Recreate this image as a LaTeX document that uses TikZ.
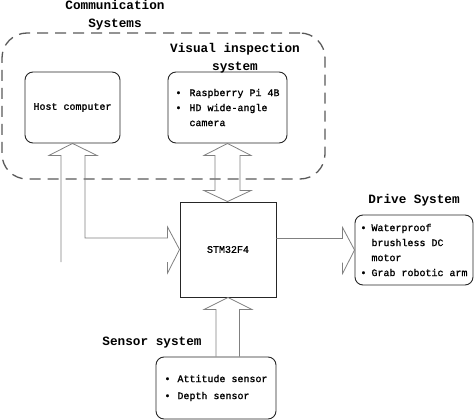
\documentclass[tikz,border=0pt]{standalone}
\usepackage{fontspec}
\setmainfont{Liberation Mono}
\newfontfamily\bodyfam[FakeBold=1.2]{Liberation Mono}
\usetikzlibrary{calc}
\newcommand\bodyfont{\bodyfam\fontsize{10}{15}\selectfont}
\newcommand\titlefont{\fontsize{12.7}{18}\selectfont\bfseries}
\newcommand\itm[1][13pt]{\makebox[#1][l]{•}}
\begin{document}
\begin{tikzpicture}[x=1pt,y=-1pt,
  box/.style={draw=black!85, line width=0.9pt, rounded corners=8pt, inner sep=0pt, align=left, font=\bodyfont},
  sqbox/.style={draw=black!85, line width=0.9pt, inner sep=0pt, font=\bodyfont},
  ttl/.style={align=center, font=\titlefont, inner sep=0pt},
  harrow/.style={draw=black!50, line width=0.8pt, line join=miter},
  dashbox/.style={draw=black!65, line width=1.3pt, dash pattern=on 11pt off 7pt, rounded corners=25pt, inner sep=0pt}]
\useasboundingbox (0,0) rectangle (474,420);
% group frame
\node[dashbox, minimum width=323pt, minimum height=146pt] (comm) at (163.5,106) {};
% boxes
\node[box, minimum width=95pt, minimum height=71pt] (host) at (72.5,107.5) {Host computer};
\node[box, minimum width=119pt, minimum height=71pt] (vis) at (227.5,107.5)
  {\itm[14pt]Raspberry Pi 4B\\\itm[14pt]HD wide-angle\\\hspace*{14pt}camera};
\node[sqbox, minimum width=96pt, minimum height=95pt] (stm) at (228,249.5) {STM32F4};
\node[box, minimum width=118pt, minimum height=70pt] (drv) at (414,250)
  {\itm[11pt]Waterproof\\\hspace*{11pt}brushless DC\\\hspace*{11pt}motor\\\itm[11pt]Grab robotic arm};
\node[box, minimum width=120pt, minimum height=62pt, font=\bodyfam\fontsize{10}{17}\selectfont] (sen) at (216,388)
  {\itm Attitude sensor\\\itm Depth sensor};
% titles
\node[ttl] (commt) at (115,15) {Communication\\Systems};
\node[ttl] (vist) at (235,58) {Visual inspection\\system};
\node[ttl] (drvt) at (414,200) {Drive System};
\node[ttl] (sent) at (152,343) {Sensor system};
% host -> stm (hollow L arrow)
\coordinate (h) at (host.south);
\coordinate (s) at (stm.west);
\coordinate (hl) at ($(h)+(-11.5,0)$);
\coordinate (hr) at ($(h)+(12.5,0)$);
\coordinate (sl) at ($(s)+(0,12.5)$);
\coordinate (su) at ($(s)+(0,-11.5)$);
\draw[harrow] (hl |- sl) -- ($(hl)+(0,12)$) -- ($(h)+(-23.5,12)$) -- (h)
  -- ($(h)+(24.5,12)$) -- ($(hr)+(0,12)$) -- (hr |- su) -- ($(su)+(-12,0)$)
  -- ($(s)+(-12,-22.5)$) -- (s) -- ($(s)+(-12,23.5)$) -- ($(sl)+(-12,0)$);
% vis <-> stm (hollow double arrow)
\coordinate (v) at (vis.south);
\coordinate (t) at (v |- stm.north);
\draw[harrow] (v) -- ($(v)+(23.5,12)$) -- ($(v)+(12.5,12)$) -- ($(t)+(12.5,-11)$)
  -- ($(t)+(23.5,-11)$) -- (t) -- ($(t)+(-23.5,-11)$) -- ($(t)+(-12.5,-11)$)
  -- ($(v)+(-12.5,12)$) -- ($(v)+(-23.5,12)$) -- cycle;
% sensor -> stm
\coordinate (b) at (stm.south);
\coordinate (bl) at ($(b)+(-12,0)$);
\coordinate (br) at ($(b)+(11.5,0)$);
\draw[harrow] (bl |- sen.north) -- ($(bl)+(0,12)$) -- ($(b)+(-24,12)$) -- (b)
  -- ($(b)+(24,12)$) -- ($(br)+(0,12)$) -- (br |- sen.north);
% stm -> drive
\coordinate (d) at (drv.west);
\coordinate (du) at ($(d)+(0,-11.5)$);
\draw[harrow] (stm.east |- du) -- ($(du)+(-12,0)$) -- ($(d)+(-12,-22.5)$) -- (d)
  -- ($(d)+(-12,23.5)$) -- ($(d)+(-12,12.5)$);
\end{tikzpicture}
\end{document}
